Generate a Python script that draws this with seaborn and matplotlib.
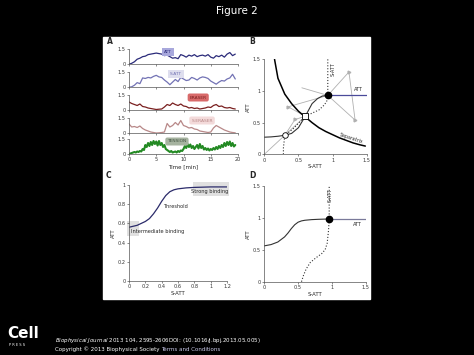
import matplotlib
matplotlib.use("Agg")
import matplotlib.pyplot as plt
import seaborn as sns
import numpy as np
from matplotlib.patches import Rectangle

sns.set_style("ticks")
plt.rcParams['font.family'] = ['DejaVu Sans']

W, H = 474, 355

# ---------------- data ----------------
att = [0.0, 0.1, 0.25, 0.5, 0.6, 0.75, 0.8, 0.95, 1.0, 1.05, 1.1, 1.05, 1.0, 0.85,
       0.9, 0.75, 0.6, 0.65, 0.55, 0.95, 0.85, 0.7, 0.9, 0.8, 0.95, 0.75, 0.85, 0.9,
       0.8, 0.95, 0.7, 0.6, 0.85, 0.75, 0.9, 0.7, 1.0, 1.15, 0.85, 1.0]
satt = [0.0, 0.05, 0.2, 0.45, 0.35, 0.9, 0.85, 0.95, 0.9, 1.05, 1.15, 1.0, 0.95, 0.7,
        0.5, 0.25, 0.5, 0.75, 0.55, 0.95, 0.8, 0.65, 0.7, 0.95, 0.85, 0.7, 0.9, 1.0,
        0.95, 0.85, 0.6, 0.45, 0.3, 0.5, 0.65, 0.6, 0.8, 0.9, 1.25, 0.8]
eraser = [0.8, 0.65, 0.55, 0.45, 0.6, 0.35, 0.3, 0.2, 0.15, 0.1, 0.05, 0.08, 0.1, 0.3,
          0.55, 0.45, 0.7, 0.55, 0.45, 0.6, 0.4, 0.35, 0.2, 0.25, 0.15, 0.2, 0.1, 0.15,
          0.2, 0.3, 0.25, 0.45, 0.55, 0.35, 0.4, 0.25, 0.2, 0.25, 0.15, 0.1]
seraser = [0.9, 0.6, 0.65, 0.55, 0.7, 0.45, 0.3, 0.2, 0.1, 0.05, 0.0, 0.02, 0.05, 0.1,
           0.95, 0.6, 0.75, 1.05, 0.8, 1.25, 0.75, 0.65, 0.5, 0.55, 0.4, 0.35, 0.2, 0.15,
           0.1, 0.05, 0.1, 0.5, 0.75, 0.6, 0.45, 0.3, 0.2, 0.1, 0.05, 0.02]
tension = [0.0, 0.05, 0.1, 0.15, 0.2, 0.15, 0.25, 0.2, 0.3, 0.25, 0.5, 0.4, 0.9, 0.7,
           1.1, 0.8, 1.2, 0.9, 1.3, 1.0, 1.25, 0.85, 1.3, 0.9, 1.1, 0.7, 0.9, 0.5, 0.4,
           0.3, 0.2, 0.3, 0.15, 0.2, 0.25, 0.15, 0.3, 0.2, 0.35, 0.3, 0.5, 0.8, 0.6, 1.0,
           0.7, 0.95, 0.6, 0.8, 0.5, 0.7, 0.9, 0.55, 1.0, 0.6, 0.8, 0.45, 0.6, 0.4, 0.55,
           0.35, 0.5, 0.4, 0.6, 0.45, 0.7, 0.5, 0.8, 0.6, 0.9, 0.7, 1.1, 0.8, 1.2, 0.9,
           1.25, 0.8, 1.1, 0.75, 0.9]
t_slow = np.arange(len(att)) * 0.5
t_fast = np.arange(len(tension)) * 0.25

# panel B
sep_x = [0.15, 0.2, 0.3, 0.4, 0.5, 0.6, 0.7, 0.8, 0.9, 1.0, 1.1, 1.2, 1.3, 1.4, 1.48]
sep_y = [1.5, 1.2, 0.95, 0.8, 0.68, 0.59, 0.5, 0.42, 0.36, 0.31, 0.26, 0.22, 0.18, 0.15, 0.13]
nullB_x = [0.0, 0.1, 0.2, 0.3, 0.4, 0.5, 0.6, 0.7, 0.78, 0.85, 0.93]
nullB_y = [0.27, 0.275, 0.285, 0.3, 0.33, 0.42, 0.6, 0.8, 0.88, 0.92, 0.93]
attB_x = [0.93, 1.5]
attB_y = [0.93, 0.93]
snullB_x = [0.28, 0.28, 0.29, 0.3, 0.42, 0.6, 0.8, 0.88, 0.92, 0.93, 0.93]
snullB_y = [0.0, 0.1, 0.2, 0.3, 0.4, 0.6, 0.7, 0.78, 0.85, 0.93, 1.5]
traj = [[(0, 0), (0.3, 0.3), (0.6, 0.6)],
        [(0.6, 0.6), (0.35, 0.75), (0.93, 0.93)],
        [(0.55, 1.05), (0.93, 0.93), (1.24, 1.3), (1.33, 0.54), (0.93, 0.93)],
        [(0.3, 0.3), (0.45, 0.55), (0.6, 0.6)]]

# panel C
c_x = [0, 0.1, 0.2, 0.25, 0.3, 0.35, 0.4, 0.45, 0.5, 0.55, 0.6, 0.7, 0.8, 1.0, 1.2]
c_y = [0.56, 0.58, 0.62, 0.65, 0.7, 0.76, 0.83, 0.89, 0.93, 0.95, 0.96, 0.97, 0.975, 0.98, 0.98]

# panel D
d_x = [0, 0.1, 0.2, 0.3, 0.35, 0.4, 0.45, 0.5, 0.55, 0.6, 0.7, 0.8, 0.96]
d_y = [0.56, 0.58, 0.62, 0.7, 0.76, 0.83, 0.89, 0.93, 0.95, 0.96, 0.97, 0.975, 0.98]
ds_x = [0.55, 0.58, 0.62, 0.68, 0.76, 0.85, 0.9, 0.93, 0.95, 0.96, 0.96]
ds_y = [0.0, 0.1, 0.2, 0.3, 0.37, 0.44, 0.5, 0.6, 0.8, 0.98, 1.5]


def px_axes(fig, x0, y0, x1, y1):
    # pixel box (x0,y0 = data origin; x1,y1 = far corner), y from top
    return fig.add_axes([x0 / W, 1 - y0 / H, (x1 - x0) / W, (y0 - y1) / H])


def style(ax, fs=3.6):
    for s in ["top", "right"]:
        ax.spines[s].set_visible(False)
    for s in ["left", "bottom"]:
        ax.spines[s].set_linewidth(0.5)
        ax.spines[s].set_color("#555555")
    ax.tick_params(labelsize=fs, length=1.5, width=0.4, pad=1, colors="#333333")
    ax.set_facecolor("none")


fig = plt.figure(figsize=(W / 100, H / 100), dpi=100, facecolor="black")
fig.patches.append(Rectangle((103 / W, 1 - 299 / H), 267 / W, 262 / H,
                             transform=fig.transFigure, color="white", zorder=-10))

fig.text(237 / W, 1 - 11 / H, "Figure 2", color="white", fontsize=7.5,
         ha="center", va="center")

# ---------------- panel A ----------------
rows = [(att, t_slow, "#2b2b7a", 64.3, 49, "ATT", 7.2, "#a8a8dc", "#2b2b7a", "square"),
        (satt, t_slow, "#7272b4", 87.3, 71.7, "S-ATT", 8.6, "#dedeee", "#7272b4", "square"),
        (eraser, t_slow, "#7a2020", 110, 95, "ERASER", 12.7, "#d86a6a", "#7a2020", "round"),
        (seraser, t_slow, "#b88888", 133, 118, "S-ERASER", 13.4, "#f3dada", "#b88888", "round"),
        (tension, t_fast, "#238a23", 154, 139, "TENSION", 8.8, "#a6b3a0", "#445544", "round")]
for i, (vals, tt, col, y0, y1, lab, lx, fc, tc, bs) in enumerate(rows):
    ax = px_axes(fig, 129, y0, 238, y1)
    lw = 1.5 if lab == "TENSION" else 0.9
    sns.lineplot(x=tt, y=vals, ax=ax, color=col, lw=lw)
    ax.set_xlim(0, 20)
    ax.set_ylim(0, 1.5)
    ax.set_yticks([0, 1.5])
    ax.set_yticklabels(["0", "1.5"])
    ax.set_xticks([0, 5, 10, 15, 20])
    style(ax)
    if i < 4:
        ax.set_xticklabels([])
    else:
        ax.set_xlabel("Time [min]", fontsize=4, labelpad=1)
    ax.text(lx, 1.25, lab, fontsize=3.2, color=tc, ha="center", va="center",
            bbox=dict(boxstyle=bs + ",pad=0.45", fc=fc, ec="none"))
fig.text(107 / W, 1 - 42 / H, "A", fontsize=5.5, fontweight="bold", va="center")

# ---------------- panel B ----------------
axB = px_axes(fig, 264.3, 154.3, 366.7, 59.3)
for seg in traj:
    sx = [p[0] for p in seg]
    sy = [p[1] for p in seg]
    sns.lineplot(x=sx, y=sy, ax=axB, color="#b0b0b0", lw=0.6, sort=False, estimator=None)
    axB.plot(sx[1:], sy[1:], ls="none", marker=">", ms=2, color="#b0b0b0")
sns.lineplot(x=sep_x, y=sep_y, ax=axB, color="black", lw=1.1, sort=False, estimator=None)
sns.lineplot(x=nullB_x, y=nullB_y, ax=axB, color="#333333", lw=0.8, sort=False, estimator=None)
sns.lineplot(x=attB_x, y=attB_y, ax=axB, color="#4a4a9a", lw=0.9, sort=False, estimator=None)
sns.lineplot(x=snullB_x, y=snullB_y, ax=axB, color="#333333", lw=0.8, ls=":",
             sort=False, estimator=None)
axB.plot([0.3], [0.3], marker="o", ms=4, mfc="white", mec="black", mew=0.6, zorder=5)
axB.plot([0.6], [0.6], marker="s", ms=5, mfc="white", mec="black", mew=0.6, zorder=5)
axB.plot([0.93], [0.93], marker="o", ms=4.5, color="black", zorder=5)
axB.set_xlim(0, 1.5)
axB.set_ylim(0, 1.5)
axB.set_xticks([0, 0.5, 1, 1.5])
axB.set_xticklabels(["0", "0.5", "1", "1.5"])
axB.set_yticks([0, 0.5, 1, 1.5])
axB.set_yticklabels(["0", "0.5", "1", "1.5"])
style(axB)
axB.set_xlabel("S-ATT", fontsize=3.8, labelpad=1)
axB.set_ylabel("ATT", fontsize=3.8, labelpad=1)
axB.text(1.38, 0.98, "ATT", fontsize=3.6, ha="center", va="bottom")
axB.text(0.97, 1.35, "S-ATT", fontsize=3.6, rotation=90, ha="left", va="center")
axB.text(1.27, 0.25, "Separatrix", fontsize=3.4, rotation=-18, ha="center", va="center")
fig.text(249 / W, 1 - 41 / H, "B", fontsize=5.5, fontweight="bold", va="center")

# ---------------- panel C ----------------
axC = px_axes(fig, 129, 281, 227, 185)
axC.add_patch(Rectangle((-0.03, 0.47), 0.15, 0.16, color="#e0e0e0", lw=0, zorder=0,
                        clip_on=False))
axC.add_patch(Rectangle((0.78, 0.89), 0.44, 0.14, color="#e0e0e0", lw=0, zorder=0,
                        clip_on=False))
sns.lineplot(x=c_x, y=c_y, ax=axC, color="#2b2b6a", lw=0.9)
axC.set_xlim(0, 1.2)
axC.set_ylim(0, 1)
axC.set_xticks([0, 0.2, 0.4, 0.6, 0.8, 1.0, 1.2])
axC.set_xticklabels(["0", "0.2", "0.4", "0.6", "0.8", "1", "1.2"])
axC.set_yticks([0, 0.2, 0.4, 0.6, 0.8, 1.0])
axC.set_yticklabels(["0", "0.2", "0.4", "0.6", "0.8", "1"])
style(axC)
axC.set_xlabel("S-ATT", fontsize=3.8, labelpad=1)
axC.set_ylabel("ATT", fontsize=3.8, labelpad=1)
axC.text(0.99, 0.935, "Strong binding", fontsize=3.6, ha="center", va="center")
axC.text(0.42, 0.78, "Threshold", fontsize=3.6, ha="left", va="center")
axC.text(0.02, 0.52, "Intermediate binding", fontsize=3.6, ha="left", va="center")
fig.text(106 / W, 1 - 176 / H, "C", fontsize=5.5, fontweight="bold", va="center")

# ---------------- panel D ----------------
axD = px_axes(fig, 264.3, 281.7, 365.7, 185.7)
sns.lineplot(x=d_x, y=d_y, ax=axD, color="#333333", lw=0.8, sort=False, estimator=None)
sns.lineplot(x=[0.96, 1.5], y=[0.98, 0.98], ax=axD, color="#7a7a9a", lw=0.9)
sns.lineplot(x=ds_x, y=ds_y, ax=axD, color="#333333", lw=0.8, ls=":",
             sort=False, estimator=None)
axD.plot([0.96], [0.98], marker="o", ms=4.5, color="black", zorder=5)
axD.set_xlim(0, 1.5)
axD.set_ylim(0, 1.5)
axD.set_xticks([0, 0.5, 1, 1.5])
axD.set_xticklabels(["0", "0.5", "1", "1.5"])
axD.set_yticks([0, 0.5, 1, 1.5])
axD.set_yticklabels(["0", "0.5", "1", "1.5"])
style(axD)
axD.set_xlabel("S-ATT", fontsize=3.8, labelpad=1)
axD.set_ylabel("ATT", fontsize=3.8, labelpad=1)
axD.text(1.38, 0.93, "ATT", fontsize=3.6, ha="center", va="top")
axD.text(0.97, 1.35, "S-ATT", fontsize=3.6, rotation=90, ha="center", va="center")
fig.text(249 / W, 1 - 176 / H, "D", fontsize=5.5, fontweight="bold", va="center")

# ---------------- footer ----------------
fig.text(7 / W, 1 - 333 / H, "Cell", color="white", fontsize=11, fontweight="bold",
         va="center", ha="left")
fig.text(9 / W, 1 - 345.5 / H, "P R E S S", color="white", fontsize=2.6, va="center")
fig.text(55 / W, 1 - 340.5 / H,
         r"$\it{Biophysical\ Journal}$ 2013 104, 2595-2606DOI: (10.1016/j.bpj.2013.05.005)",
         color="white", fontsize=4.0, va="center")
cp = fig.text(55 / W, 1 - 349.5 / H, "Copyright \u00a9 2013 Biophysical Society",
              color="white", fontsize=4.0, va="center")
fig.canvas.draw()
ext = cp.get_window_extent()
fig.text((ext.x1 + 2) / W, 1 - 349.5 / H, "Terms and Conditions", color="#c8c8e8",
         fontsize=4.0, va="center")

fig.savefig("out.png", dpi=100, facecolor="black")
